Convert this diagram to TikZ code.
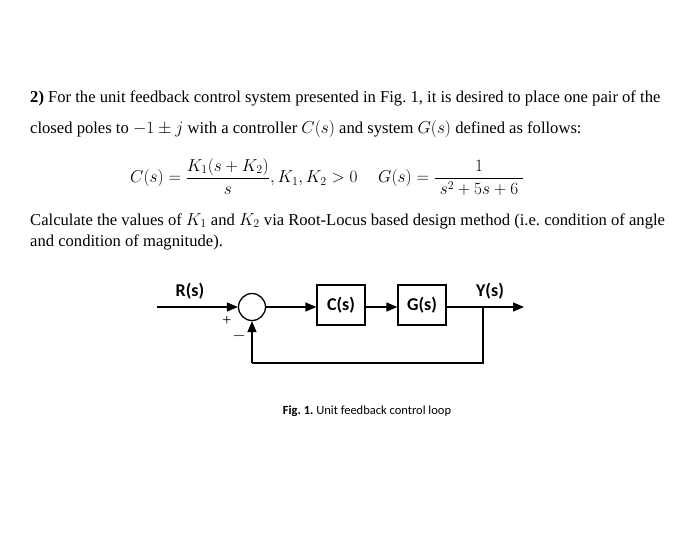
\documentclass[tikz,border=0pt]{standalone}
\usepackage{amsmath}
\usepackage{fontspec}
\setmainfont{Liberation Serif}
\newfontfamily\calib{Carlito}
\usetikzlibrary{arrows.meta}
\begin{document}
\frenchspacing
\begin{tikzpicture}[x=1pt,y=-1pt,
  txt/.style={anchor=west,inner sep=0pt,font=\fontsize{16.6}{19}\selectfont},
  blk/.style={draw,line width=1.3pt,minimum width=48pt,minimum height=40pt,inner sep=0pt,font=\calib\bfseries\fontsize{18}{20}\selectfont},
  lbl/.style={font=\calib\bfseries\fontsize{18}{20}\selectfont,inner sep=0pt},
  sig/.style={line width=1.3pt,-{Triangle[length=11pt,width=9pt]}},
  ln/.style={line width=1.3pt}]
\useasboundingbox (0,0) rectangle (700,541);
\node[txt] (l1) at (30,98) {\textbf{2)} For the unit feedback control system presented in Fig.~1, it is desired to place one pair of the};
\node[txt] (l2) at (30,129) {closed poles to $-1\pm j$ with a controller $C(s)$ and system $G(s)$ defined as follows:};
\node[txt] (eq) at (130,177) {$C(s)=\dfrac{K_1(s+K_2)}{s}, K_1,K_2>0\quad\ G(s)=\dfrac{1}{\;s^2+5s+6\;}$};
\node[txt] (l3) at (30,221) {Calculate the values of $K_1$ and $K_2$ via Root-Locus based design method (i.e. condition of angle};
\node[txt] (l4) at (30,242) {and condition of magnitude).};
\coordinate (in) at (157,307);
\node[draw,line width=1.3pt,circle,minimum size=27pt,inner sep=0pt] (sum) at (252,307) {};
\node[blk] (c) at (341,305) {C(s)};
\node[blk] (g) at (422,305) {G(s)};
\coordinate (br) at (483,307);
\coordinate (out) at (524,307);
\coordinate (bot) at (483,363);
\coordinate (botl) at (252,363);
\draw[sig] (in) -- (sum);
\draw[sig] (sum) -- (c.west|-sum);
\draw[sig] (c.east|-sum) -- (g.west|-sum);
\draw[ln] (g.east|-sum) -- (br);
\draw[sig] (br) -- (out);
\draw[ln] (br) -- (bot) -- (botl);
\draw[sig] (botl) -- (sum);
\node[lbl] (r) at (190,291) {R(s)};
\node[lbl] (y) at (490,291) {Y(s)};
\node[inner sep=0pt,font=\fontsize{16}{16}\selectfont] (p) at (227,321) {+};
\node[inner sep=0pt,font=\fontsize{16}{16}\selectfont] (m) at (239,336) {$-$};
\node[inner sep=0pt,font=\calib\fontsize{12.5}{14}\selectfont] (cap) at (367,411) {\textbf{Fig. 1.} Unit feedback control loop};
\end{tikzpicture}
\end{document}
